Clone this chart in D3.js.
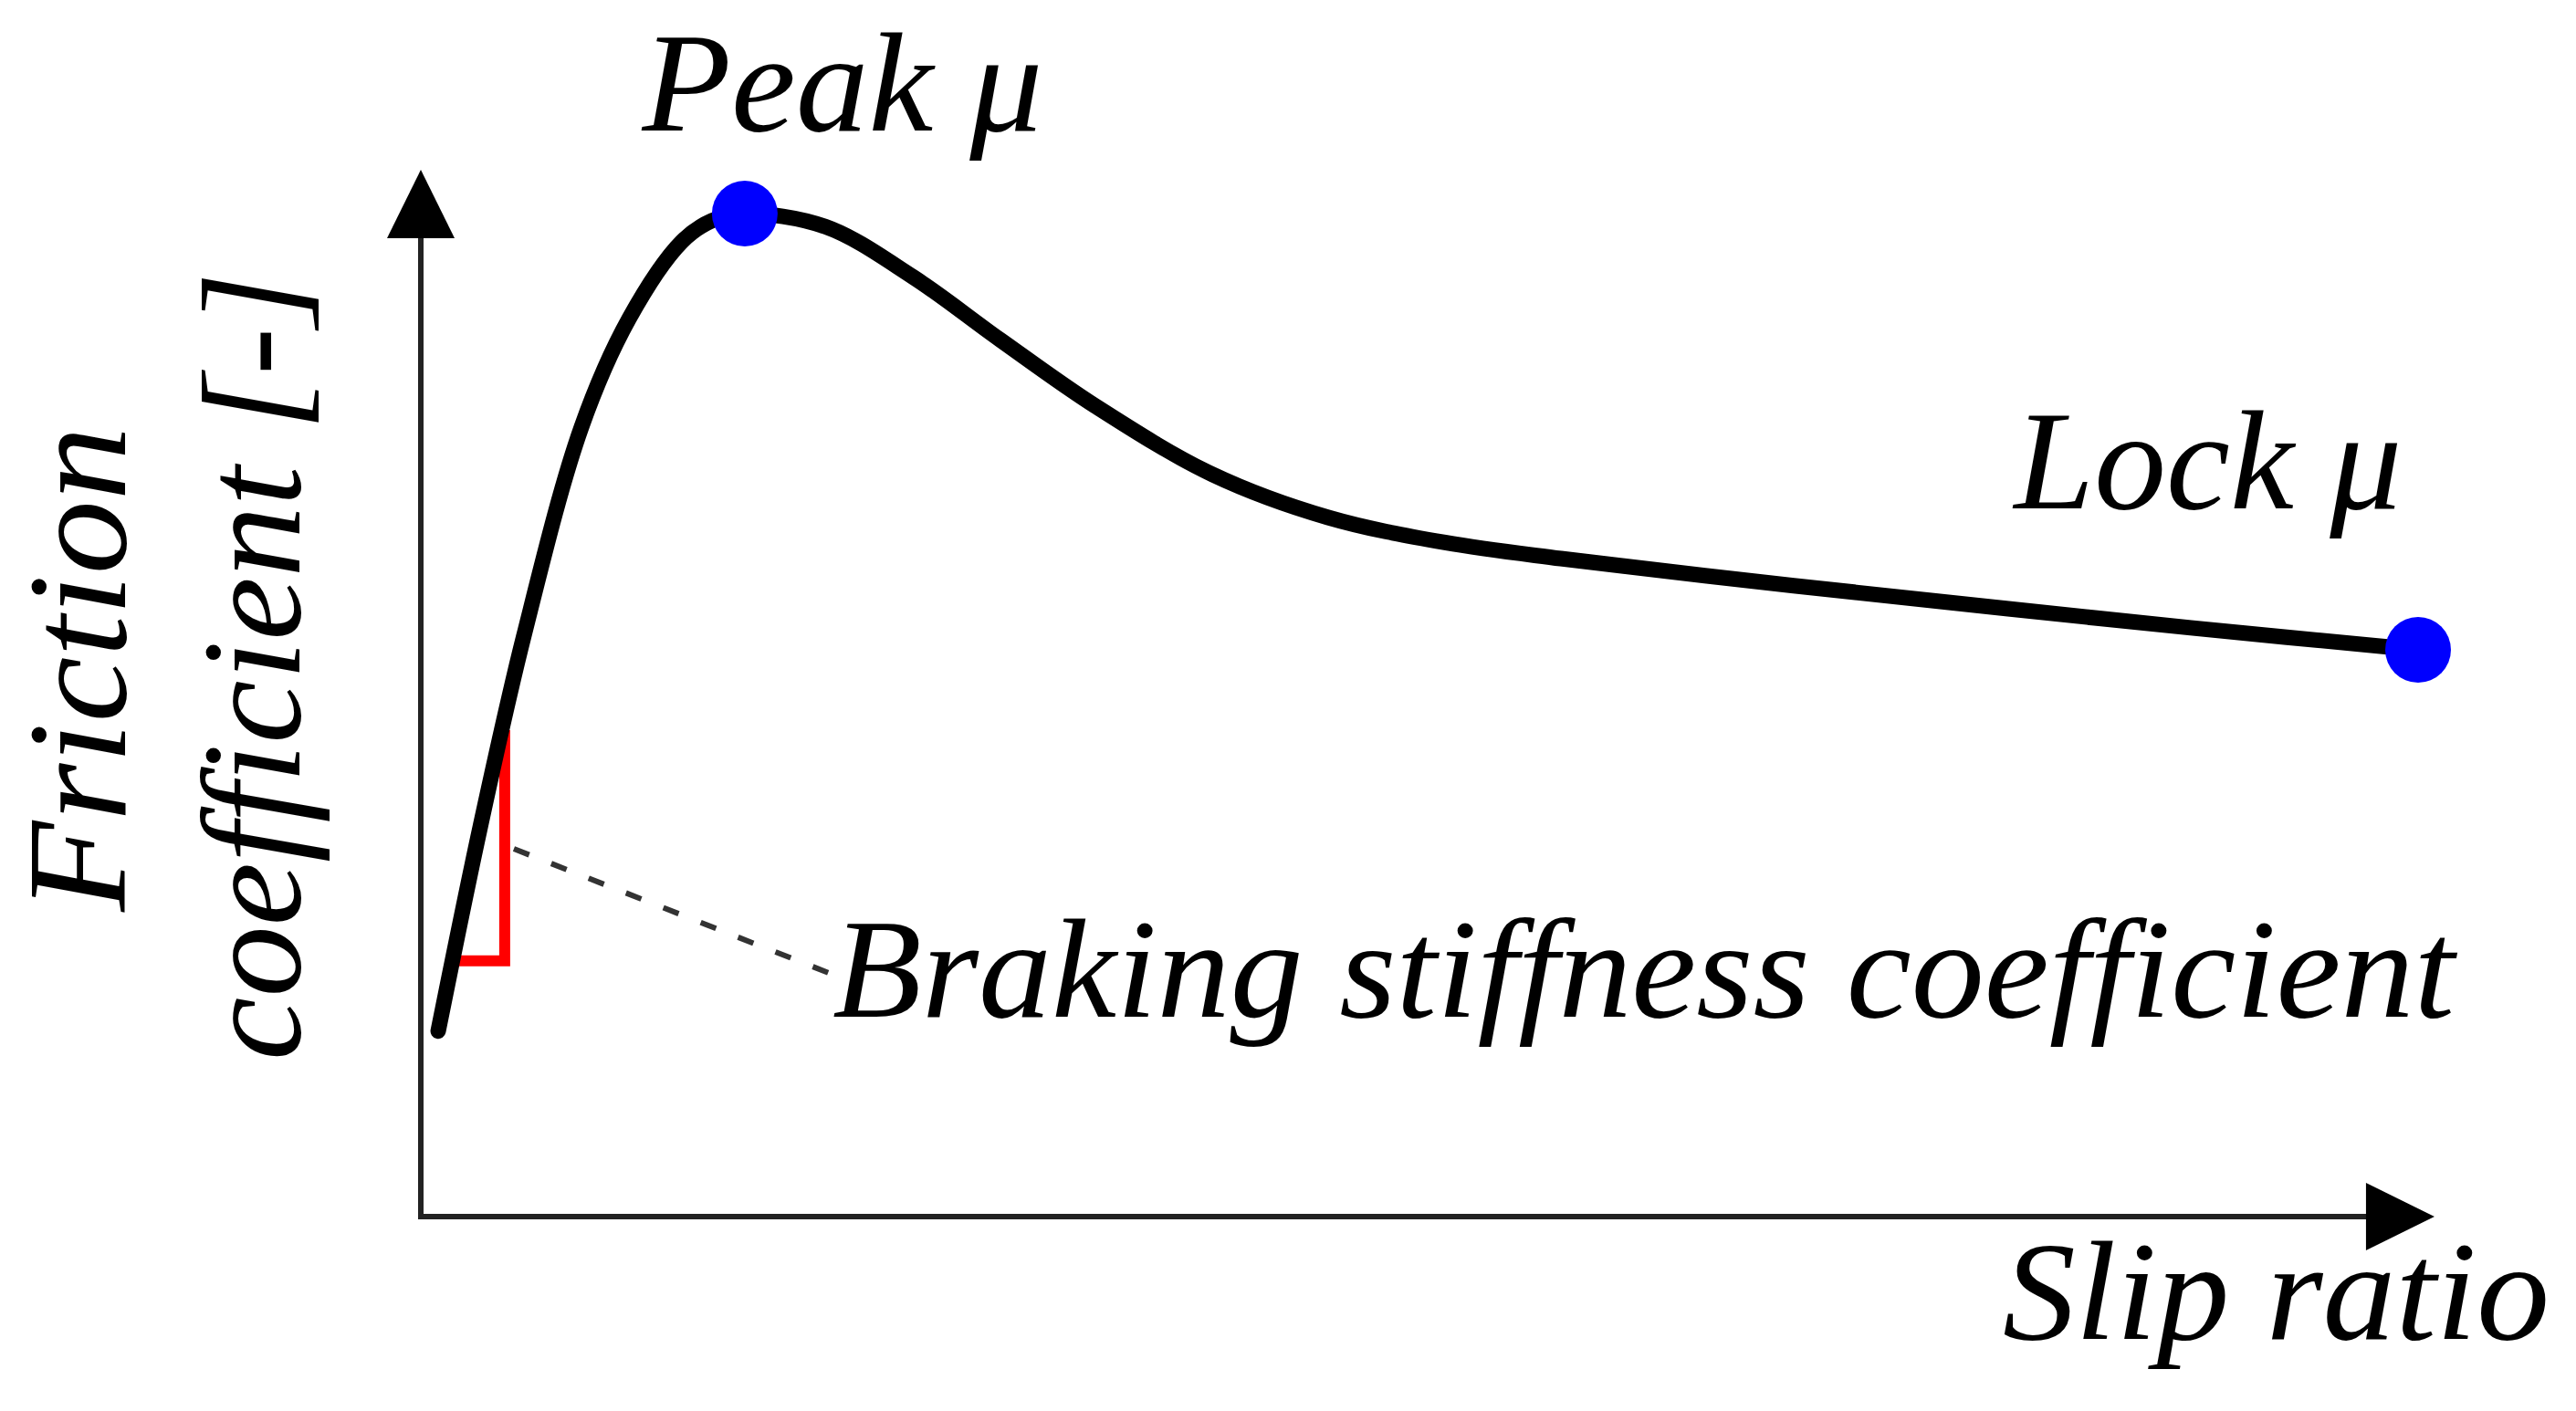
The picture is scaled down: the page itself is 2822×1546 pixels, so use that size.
<!DOCTYPE html>
<html lang="en">
<head>
  <meta charset="UTF-8">
  <title>Friction coefficient vs slip ratio</title>
  <script src="https://d3js.org/d3.v7.min.js"></script>
  <style>
    html, body { margin: 0; padding: 0; background: #fff; overflow: hidden; }
    text { font-family: "Liberation Serif", "DejaVu Serif", serif; font-style: italic; fill: #000; }
  </style>
</head>
<body>
  <div id="chart"></div>

  <script>
    // mu-slip curve (slip normalised to lock point, mu to peak)
    const slip = [0.0087, 0.0297, 0.0516, 0.0804, 0.1042, 0.1307, 0.1458, 0.1622,
                  0.2025, 0.2463, 0.2902, 0.3378, 0.3963, 0.4543, 0.5128,
                  0.5708, 0.6874, 0.7948, 0.8862, 1.0000];
    const mu   = [0.185, 0.388, 0.579, 0.787, 0.895, 0.972, 0.993, 1.000,
                  0.987, 0.937, 0.874, 0.808, 0.740, 0.697, 0.672,
                  0.656, 0.629, 0.606, 0.587, 0.565];

    // marked points
    const markSlip = [0.1622, 1.0];
    const markMu = [1.0, 0.565];
    const markLabels = ['Peak \u03bc', 'Lock \u03bc'];

    // braking stiffness triangle + leader line
    const triSlip = [0.0165, 0.0420, 0.0420];
    const triMu = [0.255, 0.255, 0.485];
    const leaderSlip = [0.0466, 0.2066];
    const leaderMu = [0.3667, 0.2411];

    const xTitle = 'Slip ratio';
    const yTitle = ['Friction', 'coefficient [-]'];
    const noteText = 'Braking stiffness coefficient';

    const W = 2822, H = 1546;
    const svg = d3.select('#chart').append('svg')
      .attr('width', W)
      .attr('height', H)
      .attr('viewBox', `0 0 ${W} ${H}`);

    const x = d3.scaleLinear().domain([0, 1]).range([461, 2649]);
    const y = d3.scaleLinear().domain([0, 1]).range([1333, 234]);

    // axes with arrow heads
    const xEnd = 1.0082, yEnd = 1.0437, head = 75, half = 37;
    svg.append('line')
      .attr('x1', x(0)).attr('y1', y(0))
      .attr('x2', x(xEnd) - head + 2).attr('y2', y(0))
      .attr('stroke', '#222').attr('stroke-width', 6);
    svg.append('path')
      .attr('d', `M${x(xEnd)},${y(0)} L${x(xEnd) - head},${y(0) - half} L${x(xEnd) - head},${y(0) + half} Z`)
      .attr('fill', '#000');
    svg.append('line')
      .attr('x1', x(0)).attr('y1', y(0) + 3)
      .attr('x2', x(0)).attr('y2', y(yEnd) + head - 2)
      .attr('stroke', '#222').attr('stroke-width', 6);
    svg.append('path')
      .attr('d', `M${x(0)},${y(yEnd)} L${x(0) - half},${y(yEnd) + head} L${x(0) + half},${y(yEnd) + head} Z`)
      .attr('fill', '#000');

    // red stiffness triangle
    const tri = d3.line().x(d => x(d[0])).y(d => y(d[1]));
    svg.append('path')
      .attr('d', tri(d3.zip(triSlip, triMu)))
      .attr('fill', 'none')
      .attr('stroke', '#ff0000')
      .attr('stroke-width', 12)
      .attr('stroke-linejoin', 'miter');

    // dashed leader
    svg.append('line')
      .attr('x1', x(leaderSlip[0])).attr('y1', y(leaderMu[0]))
      .attr('x2', x(leaderSlip[1])).attr('y2', y(leaderMu[1]))
      .attr('stroke', '#333')
      .attr('stroke-width', 6)
      .attr('stroke-dasharray', '18 26');

    // the curve
    const curve = d3.line()
      .x(d => x(d[0]))
      .y(d => y(d[1]))
      .curve(d3.curveCatmullRom.alpha(0.5));
    svg.append('path')
      .attr('d', curve(d3.zip(slip, mu)))
      .attr('fill', 'none')
      .attr('stroke', '#000')
      .attr('stroke-width', 17)
      .attr('stroke-linecap', 'round');

    // peak / lock dots
    svg.selectAll('circle.mark')
      .data(d3.zip(markSlip, markMu))
      .join('circle')
      .attr('class', 'mark')
      .attr('cx', d => x(d[0]))
      .attr('cy', d => y(d[1]))
      .attr('r', 36)
      .attr('fill', '#0000ff');

    // labels
    const fs = 155;
    const label = (txt, cx, by, len, anchor = 'middle') =>
      svg.append('text')
        .attr('x', cx).attr('y', by)
        .attr('text-anchor', anchor)
        .attr('font-size', fs)
        .attr('textLength', len)
        .attr('lengthAdjust', 'spacingAndGlyphs')
        .text(txt);

    label(markLabels[0], x(markSlip[0]) + 107, y(markMu[0]) - 91, 439);
    label(markLabels[1], x(markSlip[1]) - 230, y(markMu[1]) - 155, 425);
    label(noteText, x(leaderSlip[1]) - 1, 1114, 1777, 'start');
    label(xTitle, 2194, 1467, 599, 'start');

    // rotated y title, two lines
    const yt = svg.append('g').attr('transform', 'translate(0,733) rotate(-90)');
    yt.append('text').attr('x', 0).attr('y', 137)
      .attr('text-anchor', 'middle').attr('font-size', fs)
      .attr('textLength', 532).attr('lengthAdjust', 'spacingAndGlyphs')
      .text(yTitle[0]);
    yt.append('text').attr('x', 3).attr('y', 328)
      .attr('text-anchor', 'middle').attr('font-size', fs)
      .attr('textLength', 864).attr('lengthAdjust', 'spacingAndGlyphs')
      .text(yTitle[1]);
  </script>
</body>
</html>
